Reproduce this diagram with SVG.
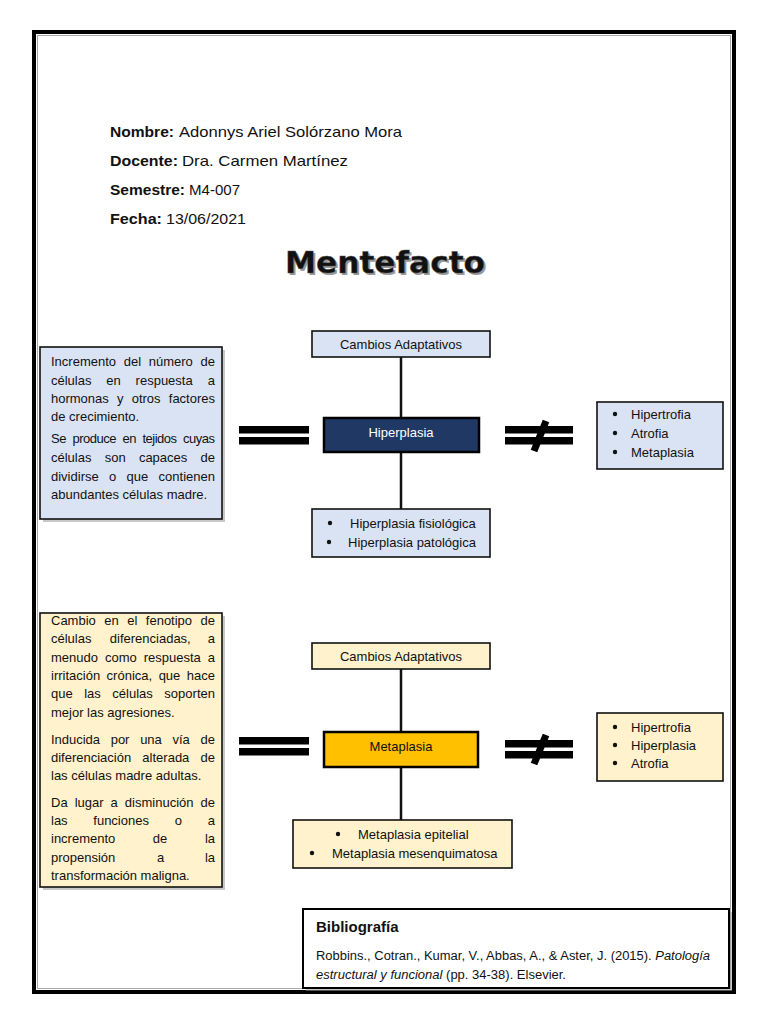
<svg xmlns="http://www.w3.org/2000/svg" width="768" height="1024" viewBox="0 0 768 1024">
<style>
.hdr{font-family:"Liberation Sans",Arial,sans-serif;font-size:15px;fill:#111}
.b{font-weight:bold}
.t{font-family:"Liberation Sans",Arial,sans-serif;font-size:13px;fill:#111}
.c{text-anchor:middle}
.box{stroke:#111;stroke-width:1.6}
.sh{fill:#9a9a9a;opacity:.55}
.blue{fill:#dae3f3}
.cream{fill:#fff2cc}
.ln{stroke:#111;stroke-width:2.5;fill:none}
.bar{fill:#000}
</style>
<rect width="768" height="1024" fill="#fff"/>
<!-- page border -->
<rect x="34" y="32" width="700" height="960" fill="none" stroke="#000" stroke-width="4"/>
<rect x="37.5" y="35.5" width="693" height="953" fill="none" stroke="#aaa" stroke-width="1"/>

<g id="header">
<text class="hdr b" x="110" y="137" textLength="64" lengthAdjust="spacingAndGlyphs">Nombre:</text>
<text class="hdr" x="179" y="137" textLength="223" lengthAdjust="spacingAndGlyphs">Adonnys Ariel Solórzano Mora</text>
<text class="hdr b" x="110" y="166" textLength="68" lengthAdjust="spacingAndGlyphs">Docente:</text>
<text class="hdr" x="182" y="166" textLength="166" lengthAdjust="spacingAndGlyphs">Dra. Carmen Martínez</text>
<text class="hdr b" x="110" y="195" textLength="75" lengthAdjust="spacingAndGlyphs">Semestre:</text>
<text class="hdr" x="189" y="195" textLength="51" lengthAdjust="spacingAndGlyphs">M4-007</text>
<text class="hdr b" x="110" y="224" textLength="52" lengthAdjust="spacingAndGlyphs">Fecha:</text>
<text class="hdr" x="166" y="224" textLength="80" lengthAdjust="spacingAndGlyphs">13/06/2021</text>
</g>

<g id="title">
<text x="287" y="275" font-family="'DejaVu Sans',Verdana,sans-serif" font-weight="bold" font-size="31" fill="#9a9a9a" textLength="200" lengthAdjust="spacingAndGlyphs">Mentefacto</text>
<text x="285" y="273" font-family="'DejaVu Sans',Verdana,sans-serif" font-weight="bold" font-size="31" fill="#111" stroke="#555" stroke-width="0.4" textLength="200" lengthAdjust="spacingAndGlyphs">Mentefacto</text>
</g>

<g id="connectors">
<line class="ln" x1="401" y1="357" x2="401" y2="418"/>
<line class="ln" x1="401" y1="452" x2="401" y2="509"/>
<rect class="bar" x="239" y="426" width="70" height="7.5"/>
<rect class="bar" x="239" y="437" width="70" height="7.5"/>
<rect class="bar" x="505" y="426" width="68" height="7.5"/>
<rect class="bar" x="505" y="437" width="68" height="7.5"/>
<line x1="546" y1="421" x2="534" y2="451" stroke="#000" stroke-width="7"/>

<line class="ln" x1="401" y1="669" x2="401" y2="732"/>
<line class="ln" x1="401" y1="767" x2="401" y2="820"/>
<rect class="bar" x="239" y="737" width="70" height="7.5"/>
<rect class="bar" x="239" y="748" width="70" height="7.5"/>
<rect class="bar" x="505" y="740" width="68" height="7.5"/>
<rect class="bar" x="505" y="751" width="68" height="7.5"/>
<line x1="546" y1="735" x2="534" y2="764" stroke="#000" stroke-width="7"/>
</g>

<!-- Hiperplasia section -->
<g id="def-hiperplasia">
<rect class="sh" x="43" y="350" width="182" height="172"/>
<rect class="box blue" x="40" y="347" width="182" height="172" stroke-width="2"/>
<text class="t" x="51" y="366" word-spacing="4.1" textLength="164" lengthAdjust="spacing">Incremento del número de</text>
<text class="t" y="385"><tspan x="51">células</tspan><tspan x="106.3">en</tspan><tspan x="135.6">respuesta</tspan><tspan x="207.8">a</tspan></text>
<text class="t" x="51" y="403" word-spacing="4.6" textLength="164" lengthAdjust="spacing">hormonas y otros factores</text>
<text class="t" x="51" y="421">de crecimiento.</text>
<text class="t" x="51" y="443" word-spacing="3.4" textLength="164" lengthAdjust="spacing">Se produce en tejidos cuyas</text>
<text class="t" y="462"><tspan x="51">células</tspan><tspan x="104.7">son</tspan><tspan x="138.9">capaces</tspan><tspan x="200.6">de</tspan></text>
<text class="t" x="51" y="481" word-spacing="6.7" textLength="164" lengthAdjust="spacing">dividirse o que contienen</text>
<text class="t" x="51" y="499">abundantes células madre.</text>
</g>

<g id="sup-hiperplasia">
<rect class="box blue" x="312" y="331" width="178" height="26"/>
<text class="t c" x="401" y="349">Cambios Adaptativos</text>
</g>

<g id="hiperplasia">
<rect x="324" y="418" width="155" height="34" fill="#1f3864" stroke="#000" stroke-width="2.5"/>
<text class="t c" x="401" y="437" style="fill:#fff">Hiperplasia</text>
</g>

<g id="excl-hiperplasia">
<rect class="box blue" x="597" y="402" width="126" height="67"/>
<circle cx="615" cy="414" r="2.2" fill="#111"/>
<circle cx="615" cy="433" r="2.2" fill="#111"/>
<circle cx="615" cy="452" r="2.2" fill="#111"/>
<text class="t" x="631" y="419">Hipertrofia</text>
<text class="t" x="631" y="438">Atrofia</text>
<text class="t" x="631" y="457">Metaplasia</text>
</g>

<g id="inf-hiperplasia">
<rect class="box blue" x="312" y="509" width="178" height="48"/>
<circle cx="330" cy="523" r="2.2" fill="#111"/>
<circle cx="329" cy="542" r="2.2" fill="#111"/>
<text class="t" x="350" y="528">Hiperplasia fisiológica</text>
<text class="t" x="348" y="547">Hiperplasia patológica</text>
</g>

<!-- Metaplasia section -->
<g id="def-metaplasia">
<rect class="sh" x="43" y="616" width="182" height="274"/>
<rect class="box cream" x="40" y="613" width="182" height="274" stroke-width="2"/>
<text class="t" x="51" y="625" word-spacing="4.9" textLength="164" lengthAdjust="spacing">Cambio en el fenotipo de</text>
<text class="t" y="643"><tspan x="51">células</tspan><tspan x="109.8">diferenciadas,</tspan><tspan x="207.8">a</tspan></text>
<text class="t" x="51" y="662" word-spacing="3.4" textLength="164" lengthAdjust="spacing">menudo como respuesta a</text>
<text class="t" x="51" y="680" word-spacing="2.9" textLength="164" lengthAdjust="spacing">irritación crónica, que hace</text>
<text class="t" x="51" y="698" word-spacing="7.9" textLength="164" lengthAdjust="spacing">que las células soporten</text>
<text class="t" x="51" y="717">mejor las agresiones.</text>
<text class="t" x="51" y="744" word-spacing="7.2" textLength="164" lengthAdjust="spacing">Inducida por una vía de</text>
<text class="t" x="51" y="762" word-spacing="7.6" textLength="164" lengthAdjust="spacing">diferenciación alterada de</text>
<text class="t" x="51" y="780">las células madre adultas.</text>
<text class="t" x="51" y="807" word-spacing="3.4" textLength="164" lengthAdjust="spacing">Da lugar a disminución de</text>
<text class="t" y="825"><tspan x="51">las</tspan><tspan x="93.3">funciones</tspan><tspan x="174.8">o</tspan><tspan x="207.8">a</tspan></text>
<text class="t" y="843"><tspan x="51">incremento</tspan><tspan x="152.8">de</tspan><tspan x="204.9">la</tspan></text>
<text class="t" y="862"><tspan x="51">propensión</tspan><tspan x="157.1">a</tspan><tspan x="204.9">la</tspan></text>
<text class="t" x="51" y="880">transformación maligna.</text>
</g>

<g id="sup-metaplasia">
<rect class="box cream" x="312" y="643" width="178" height="26"/>
<text class="t c" x="401" y="661">Cambios Adaptativos</text>
</g>

<g id="metaplasia">
<rect x="324" y="732" width="154" height="35" fill="#ffc000" stroke="#000" stroke-width="2.5"/>
<text class="t c" x="401" y="751">Metaplasia</text>
</g>

<g id="excl-metaplasia">
<rect class="box cream" x="597" y="713" width="126" height="68"/>
<circle cx="615" cy="727" r="2.2" fill="#111"/>
<circle cx="615" cy="745" r="2.2" fill="#111"/>
<circle cx="615" cy="763" r="2.2" fill="#111"/>
<text class="t" x="631" y="732">Hipertrofia</text>
<text class="t" x="631" y="750">Hiperplasia</text>
<text class="t" x="631" y="768">Atrofia</text>
</g>

<g id="inf-metaplasia">
<rect class="box cream" x="293" y="820" width="219" height="48"/>
<circle cx="338" cy="834" r="2.2" fill="#111"/>
<circle cx="312" cy="853" r="2.2" fill="#111"/>
<text class="t" x="358" y="839">Metaplasia epitelial</text>
<text class="t" x="332" y="858">Metaplasia mesenquimatosa</text>
</g>

<g id="bibliografia">
<rect class="sh" x="306" y="912" width="426" height="79"/>
<rect x="303" y="909" width="426" height="79" fill="#fff" stroke="#000" stroke-width="2"/>
<text class="t b" x="316" y="932" style="font-size:15px">Bibliografía</text>
<text class="t" x="316" y="960" style="font-size:12.5px" textLength="394" lengthAdjust="spacingAndGlyphs">Robbins., Cotran., Kumar, V., Abbas, A., &amp; Aster, J. (2015). <tspan font-style="italic">Patología</tspan></text>
<text class="t" x="316" y="979" style="font-size:12.5px" textLength="250" lengthAdjust="spacingAndGlyphs"><tspan font-style="italic">estructural y funcional</tspan> (pp. 34-38). Elsevier.</text>
</g>
</svg>
